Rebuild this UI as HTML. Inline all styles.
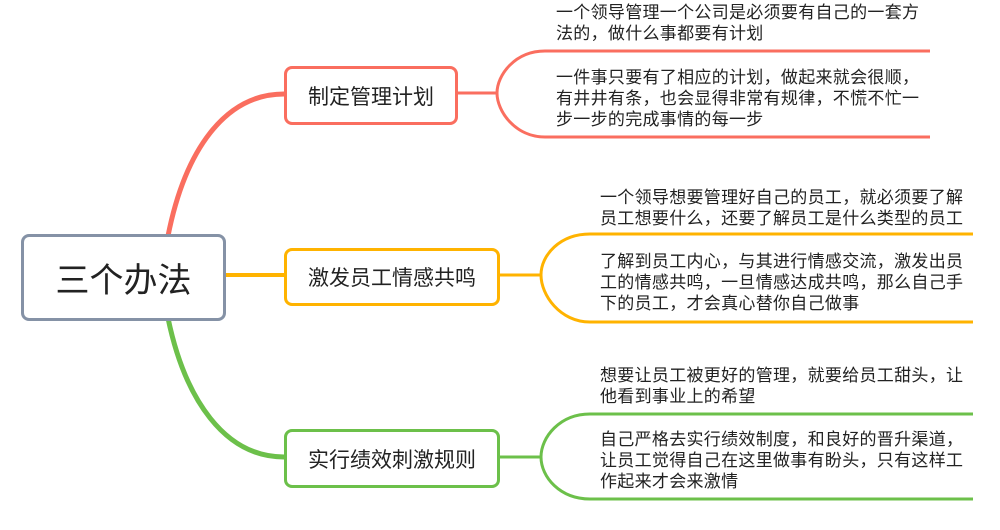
<!DOCTYPE html>
<html><head><meta charset="utf-8"><style>
body{margin:0;width:1000px;height:530px;background:#fff;position:relative;overflow:hidden;font-family:"Liberation Sans","Noto Sans CJK SC",sans-serif;color:#222}
.t{position:absolute;font-size:17px;line-height:21px;white-space:nowrap;letter-spacing:0.3px}
.box{position:absolute;box-sizing:border-box;border:3px solid;border-radius:8px;background:#fff;display:flex;align-items:center;justify-content:center;font-size:21px;color:#222}
</style></head><body>
<svg width="1000" height="530" style="position:absolute;left:0;top:0" fill="none">
<path d="M168 236 C185 150,225 94,284 94" stroke="#fa6e5f" stroke-width="5"/>
<path d="M225 275 L284 275" stroke="#ffb300" stroke-width="4"/>
<path d="M168 318 C185 400,225 457,284 457" stroke="#6cc04a" stroke-width="5"/>
<g stroke="#fa6e5f" stroke-width="3">
<path d="M457 93 L497 93"/><path d="M930 51 L545 51 C515 51,497 75,497 93 C497 111,515 137,545 137 L930 137"/></g>
<g stroke="#ffb300" stroke-width="3">
<path d="M499 275 L541 275"/><path d="M973 234 L590 234 C560 234,541 255,541 275 C541 295,560 322,590 322 L973 322"/></g>
<g stroke="#6cc04a" stroke-width="3">
<path d="M499 457 L541 457"/><path d="M973 414 L590 414 C560 414,541 437,541 457 C541 477,560 499,590 499 L973 499"/></g>
</svg>
<div class="box" style="left:21px;top:234px;width:205px;height:87px;border-color:#8592a6;font-size:34px">三个办法</div>
<div class="box" style="left:284px;top:66px;width:174px;height:59px;border-color:#fa6e5f">制定管理计划</div>
<div class="box" style="left:284px;top:248px;width:216px;height:58px;border-color:#ffb300">激发员工情感共鸣</div>
<div class="box" style="left:284px;top:429px;width:216px;height:59px;border-color:#6cc04a">实行绩效刺激规则</div>
<div class="t" style="left:556px;top:2px">一个领导管理一个公司是必须要有自己的一套方<br>法的，做什么事都要有计划</div>
<div class="t" style="left:556px;top:67px">一件事只要有了相应的计划，做起来就会很顺，<br>有井井有条，也会显得非常有规律，不慌不忙一<br>步一步的完成事情的每一步</div>
<div class="t" style="left:600px;top:187px">一个领导想要管理好自己的员工，就必须要了解<br>员工想要什么，还要了解员工是什么类型的员工</div>
<div class="t" style="left:600px;top:251px">了解到员工内心，与其进行情感交流，激发出员<br>工的情感共鸣，一旦情感达成共鸣，那么自己手<br>下的员工，才会真心替你自己做事</div>
<div class="t" style="left:600px;top:365px">想要让员工被更好的管理，就要给员工甜头，让<br>他看到事业上的希望</div>
<div class="t" style="left:600px;top:429px">自己严格去实行绩效制度，和良好的晋升渠道，<br>让员工觉得自己在这里做事有盼头，只有这样工<br>作起来才会来激情</div>
</body></html>
